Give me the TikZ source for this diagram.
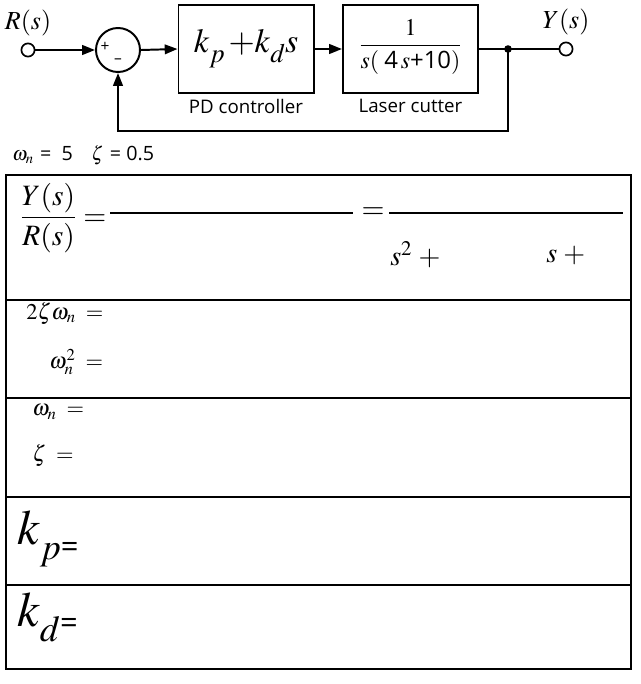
\documentclass[tikz,border=0pt]{standalone}
\usepackage{amsmath}
\usepackage{mathptmx}
\usepackage{fontspec}
\setsansfont{Open Sans}
\usepackage{tikz}
\usetikzlibrary{arrows.meta, positioning}
\tikzset{
  block/.style={rectangle, draw=black, minimum width=3.375cm,
    minimum height=2.2cm, line width=1.4pt, inner sep=0pt},
  sumjunc/.style={circle, draw=black, minimum size=1.1cm,
    line width=1.4pt, inner sep=0pt},
  term/.style={circle, draw=black, fill=white, minimum size=0.33cm,
    line width=1.2pt, inner sep=0pt},
  sign/.style={font=\sffamily\fontsize{11}{12}\selectfont, inner sep=0pt},
  siglbl/.style={font=\fontsize{18.5}{20}\selectfont, inner sep=0pt},
  caption/.style={font=\sffamily\fontsize{13.3}{15}\selectfont, inner sep=0pt},
  param/.style={font=\fontsize{14}{16}\selectfont, inner sep=0pt},
  tfrac/.style={font=\fontsize{21}{23}\selectfont, inner sep=0pt},
  tmath/.style={font=\fontsize{16}{18}\selectfont, inner sep=0pt},
  tbig/.style={font=\fontsize{20}{22}\selectfont, inner sep=0pt},
  kbig/.style={font=\fontsize{35}{37}\selectfont, inner sep=0pt},
  arrow/.style={-{Triangle[length=3.2mm,width=2.4mm]}, line width=1.4pt},
  line/.style={line width=1.4pt},
  tbl/.style={line width=1pt},
  blank/.style={line width=1.2pt}
}
% lowered, enlarged subscript as in the equation editor
\newcommand{\dropsub}[3]{\raisebox{#1}{\fontsize{#2}{#2}\selectfont$#3$}}

\begin{document}
\begin{tikzpicture}[x=0.025cm, y=-0.025cm]
  \useasboundingbox (0,0) rectangle (640,684);

  % Blocks and junctions
  \node[term] (rin) at (28,50) {};
  \node[sumjunc] (sum) at (118,50) {};
  \node[block] (pd) at (246,49) {\fontsize{24}{26}\selectfont
    $k$\dropsub{-0.3em}{19}{p}$\,+k$\dropsub{-0.3em}{19}{d}$s$};
  \node[block] (plant) at (410.5,49) {};
  \node (tf1) at (410.5,47) {\fontsize{17}{19}\selectfont
    $\dfrac{1}{s(\;\text{\sffamily 4}\,s\text{\sffamily +10})}$};
  \coordinate (jn) at (508,49);
  \node[term] (yout) at (566,49) {};
  \coordinate (fb) at (508,131);

  % Signs and labels
  \node[sign] (plus) at (105,47) {+};
  \node[sign] (minus) at (118,61) {--};
  \node[siglbl, above=0.15cm of rin] (rlab) {$R(s)$};
  \node[siglbl, above=0.15cm of yout] (ylab) {$Y(s)$};
  \node[caption, below=0.12cm of pd] (pdlab) {PD controller};
  \node[caption, below=0.12cm of plant] (plantlab) {Laser cutter};

  % Forward path
  \draw[arrow] (rin.east) -- (sum.west);
  \draw[arrow] (sum.east) -- (pd.west);
  \draw[arrow] (pd.east) -- (plant.west);
  \draw[line] (plant.east) -- (yout.west);
  \fill (jn) circle (3.8);

  % Feedback path
  \draw[arrow] (jn) -- (fb) -| (sum.south);

  % Given values
  \node[param, anchor=west] (wnval) at (12,155) {$\omega_n$ {\sffamily = \ 5}};
  \node[param, anchor=west] (zetaval) at (91,155) {$\zeta$ {\sffamily = 0.5}};

  % Answer table
  \draw[tbl] (6,175) rectangle (631,669);
  \draw[tbl] (6,300) -- (631,300) (6,398) -- (631,398)
    (6,497) -- (631,497) (6,585) -- (631,585);

  \node[tfrac, anchor=west] (tfr) at (20,218) {$\dfrac{Y(s)}{R(s)}=$};
  \draw[blank] (110,213) -- (353,213);
  \node[tfrac] (eqb) at (373,213) {$=$};
  \draw[blank] (389,213) -- (623,213);
  \node[tbig, anchor=west] (den1) at (390,255) {$s^2\;+$};
  \node[tbig, anchor=west] (den2) at (546,255) {$s\;+$};

  \node[tmath, anchor=west] (zw) at (26,313) {$2\zeta\omega_n\;=$};
  \node[tmath, anchor=west] (wsq) at (49,362) {$\omega_n^2\;=$};
  \node[tmath, anchor=west] (wn) at (32,412) {$\omega_n\;=$};
  \node[tmath, anchor=west] (ze) at (32,455) {$\zeta\;=$};

  \node[kbig, anchor=west] (kp) at (17,539)
    {$k$\dropsub{-0.3em}{26}{p}\raisebox{-0.25em}{\sffamily\fontsize{22}{24}\selectfont=}};
  \node[kbig, anchor=west] (kd) at (17,617)
    {$k$\dropsub{-0.3em}{26}{d}\raisebox{-0.15em}{\sffamily\fontsize{22}{24}\selectfont=}};
\end{tikzpicture}
\end{document}
